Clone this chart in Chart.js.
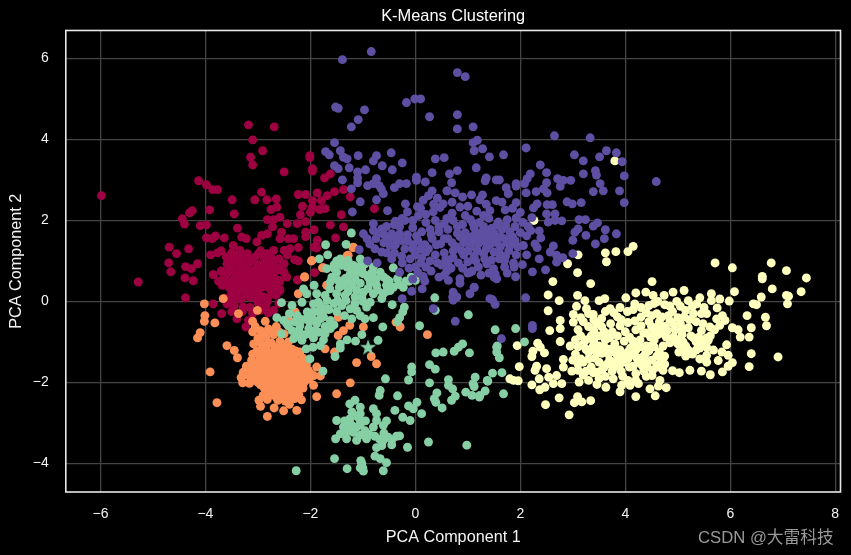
<!DOCTYPE html>
<html><head><meta charset="utf-8">
<style>html,body{margin:0;padding:0;background:#000;overflow:hidden}
#wrap{position:relative;width:851px;height:555px}
#mark{position:absolute;left:698px;top:524px;font:16.7px "Liberation Sans","Noto Sans CJK SC",sans-serif;color:#9a9a9a;white-space:nowrap}
</style>
<script src="https://cdn.jsdelivr.net/npm/chart.js@4"></script></head>
<body><div id="wrap"><canvas id="c" width="851" height="555"></canvas><div id="mark">CSDN @大雷科技</div></div>
<script>
const chartTitle="K-Means Clustering", xLabel="PCA Component 1", yLabel="PCA Component 2";
const xTicks=[-6,-4,-2,0,2,4,6,8], yTicks=[-4,-2,0,2,4,6];
const crimsonPts=[[-5.98,2.61],[-5.28,0.48],[-3.18,4.36],[-2.69,4.31],[-3.1,3.99],[-2.91,3.72],[-3.14,3.56],[-3.1,3.37],[-2.01,3.6],[-2.01,3.55],[-1.96,3.28],[-1.96,3.22],[-2.5,3.2],[-1.62,3.15],[-1.73,3.05],[-4.13,2.98],[-3.98,2.88],[-3.86,2.76],[-3.77,2.76],[-2.93,2.7],[-3.49,2.51],[-3.06,2.51],[-2.83,2.51],[-2.65,2.53],[-2.23,2.64],[-2.09,2.64],[-1.87,2.68],[-1.68,2.61],[-1.54,2.71],[-1.37,2.76],[-1.24,2.58],[-1.96,2.49],[-1.79,2.49],[-2.15,2.35],[-1.96,2.33],[-0.78,2.29],[-1.41,2.14],[-1.62,1.89],[-1.37,1.84],[-1.52,1.57],[-3.92,2.26],[-4.25,2.24],[-4.3,2.19],[-3.45,2.16],[-4.44,2.04],[-4.4,1.91],[-4.1,1.87],[-3.98,1.89],[-3.39,1.81],[-3.98,1.57],[-3.87,1.55],[-3.81,1.62],[-3.64,1.57],[-4.69,1.34],[-4.55,1.18],[-4.32,1.3],[-4.7,0.95],[-4.66,0.73],[-4.38,0.86],[-4.27,0.81],[-4.15,0.93],[-4.39,0.58],[-4.23,0.51],[-3.85,0.66],[-3.9,1.15],[-3.77,1.2],[-3.7,1.25],[-3.31,1.59],[-3.22,1.55],[-3.02,1.47],[-2.93,1.63],[-2.82,1.67],[-2.72,1.84],[-2.82,2.02],[-2.7,2.02],[-2.75,2.27],[-2.64,2.33],[-2.58,2.08],[-2.44,1.92],[-2.25,1.92],[-2.09,1.97],[-2.19,2.14],[-2,2.2],[-1.82,2.27],[-1.72,2.29],[-2.09,1.71],[-1.93,1.77],[-2.09,1.6],[-1.87,1.51],[-1.93,1.34],[-1.88,1.32],[-2.55,1.71],[-2.58,1.55],[-2.42,1.55],[-2.32,1.55],[-2.39,1.3],[-2.23,1.33],[-2.5,1.26],[-2.44,1.15],[-2.3,1.03],[-2.23,1],[-2.7,1.26],[-2.83,1.18],[-2.99,1.18],[-2.7,0.93],[-2.5,0.93],[-2.64,0.77],[-2.5,0.72],[-2.59,0.48],[-2.59,0.31],[-2.25,0.53],[-1.92,0.71],[-3.47,1.38],[-3.34,1.26],[-3.47,1.09],[-3.59,0.93],[-3.66,0.68],[-3.62,0.62],[-3.55,0.35],[-3.5,0.78],[-3.48,0.5],[-3.45,0.15],[-3.42,1],[-3.4,0.65],[-3.38,0.32],[-3.35,0.85],[-3.32,0.05],[-3.3,0.55],[-3.28,1.1],[-3.25,0.25],[-3.24,0.72],[-3.2,0.42],[-3.18,0.92],[-3.15,0.1],[-3.12,0.6],[-3.1,1.02],[-3.08,0.3],[-3.05,0.78],[-3.02,0.48],[-3,-0.02],[-2.98,0.18],[-2.96,0.9],[-2.94,0.62],[-2.9,0.36],[-2.88,1.08],[-2.85,0.75],[-2.82,0.08],[-2.8,0.52],[-2.76,0.28],[-2.74,0.9],[-2.7,0.62],[-2.68,0.4],[-2.65,0.16],[-3.58,0.9],[-3.52,0.05],[-3.7,0.75],[-3.68,0.4],[-3.3,0.4],[-3.15,0.35],[-3.35,0.62],[-3.22,0.55],[-3.05,0.6],[-3.12,0.2],[-2.95,0.45],[-3.42,0.45],[-3.4,0.15],[-3.85,0.66],[-4.38,0.09],[-3.69,-0.3],[-3.85,-0.06],[-3.4,-0.43],[-3.23,-0.63],[-3.18,-0.47],[-2.7,-0.22],[-2.96,-0.22],[-3.28,-0.14],[-3.59,-0.06],[-2.83,-0.02],[-2.58,0.27],[-2.59,0.52],[-2.24,0.53],[-1.13,0.64],[-3.1,-0.3],[-2.85,-0.12],[-3.45,-0.1],[-2.6,-0.05]];
const crimsonCore=[[-3.6,0.45],[-3.56,0.72],[-3.5,0.22],[-3.46,0.9],[-3.44,0.58],[-3.42,0.33],[-3.36,0.08],[-3.33,0.74],[-3.3,0.98],[-3.28,0.3],[-3.26,0.48],[-3.2,0.18],[-3.2,0.82],[-3.14,0.48],[-3.14,1],[-3.08,0.7],[-3.06,0.1],[-3.02,0.32],[-3,0.9],[-2.98,0.56],[-2.92,0.75],[-2.9,0.12],[-2.88,0.48],[-2.85,0.95],[-2.83,0.62],[-2.78,0.4],[-2.72,0.72],[-2.7,0.18],[-2.66,0.55],[-3.6,1.1],[-3.5,1.2],[-3.38,1.12],[-3.2,1.18],[-3.05,1.1],[-3.55,1],[-2.95,1.25],[-2.75,1.08],[-2.6,1.05],[-2.55,0.85],[-2.45,0.6],[-3.62,0.08],[-3.75,0.5],[-3.3,-0.25],[-3.15,-0.15],[-2.8,-0.28],[-3.5,-0.25]];
const orangePts=[[-4.02,-0.06],[-3.66,0.07],[-4.01,-0.35],[-4.02,-0.49],[-3.82,-0.53],[-4.1,-0.77],[-4.15,-0.9],[-3.37,-0.3],[-3.01,-0.22],[-3.1,-0.49],[-2.86,-0.49],[-3.59,-1.09],[-3.45,-1.21],[-3.39,-1.39],[-3.91,-1.74],[-3.78,-2.5],[-3.29,-2.01],[-2.95,-2.59],[-2.69,-2.63],[-2.82,-2.84],[-2.51,-2.7],[-2.26,-2.69],[-2.17,-2.43],[-2.4,-2.54],[-1.88,-2.35],[-1.5,-2.28],[-1.24,-2.01],[-1.12,-1.51],[-0.74,-1.54],[-0.84,-1.36],[-1.94,-2.07],[-1.94,-1.83],[-1.81,-1.84],[-1.88,-1.62],[-1.97,1.01],[-2.11,0.6],[-2.23,0.19],[-1.75,0.83],[-1.18,1.34],[-1.28,1.14],[0.23,-0.82],[-0.29,-0.63],[-0.37,-0.51],[-0.99,-0.63],[-1.54,-1.25],[-1.72,-1.17],[-1.75,-0.22],[-1.47,-0.39],[-1.25,-0.59],[-1.37,-0.72],[-1.47,-0.84],[-2.29,-0.26],[-2.42,-0.43],[-1.69,0.4],[-1.98,1],[-2.11,0.61],[-1.77,0.83],[-1.19,1.33],[-1.3,1.13],[-1.22,0.78],[-1.31,0.58],[-3.05,-0.62],[-2.95,-0.72],[-2.8,-0.68],[-2.65,-0.62],[-2.5,-0.8],[-3,-0.9],[-2.85,-0.88],[-2.7,-0.82],[-2.58,-0.98],[-2.42,-1],[-2.92,-1.08],[-2.75,-1.02],[-3.02,-1.22],[-2.84,-1.2],[-2.68,-1.18],[-2.52,-1.15],[-2.35,-1.18],[-2.2,-1.25],[-2.96,-1.38],[-2.78,-1.35],[-2.62,-1.32],[-2.46,-1.32],[-2.3,-1.35],[-2.14,-1.4],[-3.05,-1.52],[-2.88,-1.5],[-2.72,-1.48],[-2.56,-1.46],[-2.4,-1.48],[-2.24,-1.5],[-2.08,-1.55],[-3.15,-1.68],[-3,-1.65],[-2.84,-1.63],[-2.68,-1.62],[-2.52,-1.62],[-2.36,-1.62],[-2.2,-1.65],[-2.04,-1.7],[-3.2,-1.82],[-3.04,-1.8],[-2.88,-1.78],[-2.72,-1.76],[-2.56,-1.76],[-2.4,-1.78],[-2.24,-1.8],[-2.08,-1.84],[-3.08,-1.95],[-2.92,-1.92],[-2.76,-1.9],[-2.6,-1.9],[-2.44,-1.92],[-2.28,-1.95],[-2.12,-2],[-2.95,-2.06],[-2.78,-2.05],[-2.62,-2.04],[-2.46,-2.06],[-2.3,-2.08],[-2.14,-2.14],[-2.72,-2.18],[-2.56,-2.18],[-2.4,-2.2],[-2.24,-2.22],[-2.9,-2.32],[-2.72,-2.3],[-2.54,-2.32],[-2.38,-2.34],[-2.22,-2.3],[-2.62,-2.44],[-2.48,-2.46]];
const orangeCore=[[-3.1,-0.75],[-2.9,-0.82],[-2.75,-0.72],[-2.6,-0.75],[-3.08,-1.05],[-2.98,-1],[-2.83,-1.08],[-2.6,-1.08],[-2.47,-1.1],[-3.1,-1.3],[-2.9,-1.28],[-2.72,-1.26],[-2.55,-1.24],[-2.38,-1.26],[-2.28,-1.22],[-3.12,-1.45],[-2.96,-1.44],[-2.8,-1.42],[-2.64,-1.4],[-2.48,-1.4],[-2.32,-1.42],[-2.16,-1.48],[-3.22,-1.6],[-3.07,-1.58],[-2.92,-1.56],[-2.76,-1.55],[-2.6,-1.54],[-2.44,-1.55],[-2.28,-1.56],[-2.12,-1.58],[-3.28,-1.75],[-3.1,-1.74],[-2.95,-1.72],[-2.8,-1.7],[-2.64,-1.69],[-2.48,-1.69],[-2.32,-1.71],[-2.16,-1.72],[-2,-1.78],[-3.32,-1.88],[-3.14,-1.88],[-2.98,-1.85],[-2.82,-1.84],[-2.66,-1.83],[-2.5,-1.84],[-2.34,-1.86],[-2.18,-1.88],[-2.02,-1.92],[-3.16,-2.02],[-3,-2],[-2.85,-1.98],[-2.68,-1.97],[-2.52,-1.98],[-2.36,-2],[-2.2,-2.04],[-2.88,-2.14],[-2.7,-2.11],[-2.54,-2.11],[-2.38,-2.13],[-2.22,-2.14],[-2.8,-2.24],[-2.64,-2.25],[-2.48,-2.26],[-2.32,-2.27],[-2.65,-2.37],[-2.45,-2.38],[-2.3,-2.4],[-2.82,-2.42],[-2.98,-2.44]];
const greenPts=[[-2.27,-4.18],[-1.54,-3.88],[-1.3,-4.13],[-1.04,-3.93],[-1.02,-4],[-1.05,-4.11],[-0.99,-4.19],[-1,-4.11],[-0.61,-4.18],[-0.55,-3.98],[-0.67,-3.88],[-0.77,-3.82],[-0.15,-3.6],[0.25,-3.47],[0.98,-3.55],[-0.74,-3.61],[-0.64,-3.56],[-0.45,-3.54],[-0.52,-3.35],[-0.61,-3.43],[-0.77,-3.33],[-0.36,-3.33],[-0.3,-3.32],[-1.52,-3.39],[-1.31,-3.39],[-1.43,-3.27],[-1.18,-3.23],[-1.12,-3.43],[-0.93,-3.39],[-0.96,-3.19],[-1.12,-3.1],[-1.31,-3.02],[-1.5,-2.94],[-1.37,-3.1],[-1.05,-2.94],[-0.8,-3.1],[-0.74,-2.94],[-0.55,-2.95],[-0.61,-3.06],[-1.15,-2.44],[-1.25,-2.53],[-1.05,-2.61],[-1.21,-2.73],[-1.05,-2.77],[-0.8,-2.65],[-0.74,-2.77],[-0.67,-2.2],[-0.69,-2.32],[-0.34,-2.33],[-0.39,-2.69],[-0.24,-2.86],[-0.1,-2.94],[-0.13,-2.58],[0.03,-2.49],[-0.04,-2.65],[0.12,-2.77],[-0.57,-1.91],[-0.13,-1.94],[-0.07,-1.62],[-0.07,-1.74],[0.27,-1.56],[0.38,-1.67],[0.27,-2.01],[0.41,-2.26],[0.36,-2.4],[0.39,-2.49],[0.51,-2.63],[0.63,-1.93],[0.63,-2.07],[0.71,-2.16],[0.76,-2.34],[0.69,-2.44],[0.96,-2.24],[1.08,-2.32],[1.22,-2.36],[1.33,-2.21],[1.14,-1.87],[1.1,-2.03],[1.12,-2.1],[1.38,-1.97],[1.47,-1.77],[0.39,-1.27],[0.53,-1.25],[0.74,-1.23],[0.82,-1.13],[0.9,-1.05],[1.03,-1.27],[1.52,-0.7],[1.55,-1.13],[1.55,-1.25],[1.6,-1.39],[1.01,-0.33],[0.08,-0.6],[0.37,0.09],[0.38,-0.22],[-0.62,-0.63],[-0.8,-0.4],[-0.44,-0.08],[-0.21,-0.14],[-0.24,-0.26],[-0.3,-0.4],[-0.34,-0.5],[1.91,-0.67],[2.08,-1],[1.56,-1.1],[1.65,-1.76],[1.37,-1.95],[1.68,-2.28],[1.23,-2.32],[-1.71,1.4],[-1.32,1.41],[-1.22,1.69],[-1.83,1.05],[-1.67,1.15],[-1.43,1.05],[-1.4,0.89],[-1.28,1.01],[-1.18,0.89],[-1.05,1.05],[-0.96,0.93],[-0.8,0.85],[-0.67,0.72],[-0.42,0.83],[-1.69,0.81],[-1.59,0.6],[-1.47,0.52],[-1.34,0.56],[-1.24,0.68],[-1.1,0.72],[-0.99,0.68],[-0.86,0.48],[-0.74,0.4],[-0.55,0.4],[-0.6,0.6],[-0.48,0.27],[-0.34,0.56],[-0.23,0.35],[-0.12,0.5],[0,0.52],[-0.61,0.19],[-0.64,0.07],[-0.8,0.19],[-0.86,-0.02],[-0.93,-0.14],[-1.15,0.11],[-1.34,0.15],[-1.37,0.4],[-1.21,0.4],[-0.99,0.23],[-1.5,0.19],[-1.63,0.31],[-1.72,0.15],[-1.88,0.19],[-1.93,0.4],[-2.07,0.19],[-2.13,0.31],[-1.94,-0.06],[-2.16,-0.02],[-2.35,-0.1],[-2.55,-0.03],[-1.4,-0.1],[-1.24,-0.18],[-1.12,-0.22],[-1.05,-0.35],[-0.96,-0.43],[-1.21,-0.43],[-2.64,-0.4],[-2.51,-0.47],[-2.55,-0.8],[-2.35,-0.72],[-2.22,-0.72],[-2.03,-0.67],[-2.06,-0.26],[-1.94,-0.26],[-1.81,-0.43],[-1.62,-0.47],[-1.62,-0.67],[-1.72,-0.62],[-2.32,-0.92],[-2.16,-0.96],[-1.94,-0.9],[-1.84,-0.76],[-1.81,-1.09],[-1.95,-1.13],[-2.08,-1.17],[-2.01,-1.42],[-1.53,-1.36],[-1.43,-1.05],[-1.43,-1.15],[-1.3,-0.95],[-1.14,-0.98],[-1.02,-0.82],[-0.71,-0.96],[-1.76,-1.72],[-2.45,-0.55],[-2.3,-0.5],[-2.15,-0.45],[-2.2,-0.6],[-2.02,-0.5],[-1.88,-0.55],[-1.75,-0.38],[-2.1,-0.82],[-1.55,0.82],[-1.5,0.72],[-1.15,0.72],[-0.9,0.6],[-0.75,0.55],[-1.05,0.45],[-0.5,0.5],[-1.28,0.25],[-1.8,-0.12],[-1.55,-0.05],[-1.85,-0.25]];
const greenCore=[[-2.4,-0.3],[-2.25,-0.35],[-2.05,-0.38],[-1.95,-0.45],[-1.9,-0.72],[-1.72,-0.8],[-1.75,-0.95],[-2,-0.8],[-2.25,-0.82],[-2.42,-0.6],[-1.85,-0.02],[-1.68,0.02],[-1.48,0.02],[-1.32,0.02],[-1.15,-0.05],[-1,0],[-1.12,0.28],[-1.02,0.1],[-0.9,0.32],[-0.72,0.28],[-0.55,0.25],[-0.42,0.35],[-0.32,0.42],[-1.45,0.35],[-1.28,0.48],[-1.62,0.48],[-1.15,0.55],[-0.82,0.72],[-0.55,0.55],[-0.18,0.5],[-0.08,0.6],[-1.5,1],[-1.55,0.9],[-1.3,0.85],[-1.08,0.85],[-1.02,0.78],[-0.85,0.68],[-1.65,-0.2],[-1.5,-0.25],[-1.35,-0.35],[-1.72,-0.18],[-1.55,-0.58],[-1.3,-3.2],[-1.22,-3.05],[-1.05,-3.05],[-0.95,-2.95],[-1.25,-2.9],[-1.1,-2.85],[-1.35,-2.95],[-0.88,-3.28],[-1.05,-3.3],[-0.68,-3.4],[-0.6,-3.25],[-0.45,-3.42]];
const purplePts=[[-0.84,6.17],[-1.39,5.97],[-1.52,4.8],[-1.47,4.77],[-0.97,4.73],[-1.09,4.49],[-1.22,4.31],[-0.17,4.91],[-0.01,5],[0.1,5],[0.27,4.56],[-1.54,3.92],[-1.43,3.72],[-1.71,3.7],[-1.64,3.62],[-1.37,3.56],[-1.3,3.52],[-1.09,3.6],[-0.74,3.6],[-0.8,3.47],[-0.46,3.67],[-0.25,3.42],[0.38,3.52],[0.55,3.55],[-1.54,3.35],[-1.47,3.28],[-1.26,3.3],[-1.1,3.2],[-0.95,3.25],[-0.63,3.35],[-0.44,3.25],[0.32,3.18],[-1.1,3.05],[-1.1,2.93],[-1.39,3],[-0.74,3.03],[-0.8,2.91],[-0.91,2.86],[-0.69,2.86],[-0.65,2.78],[-0.61,2.66],[-1.22,2.78],[-0.4,2.81],[-0.3,2.91],[-0.17,2.91],[0.02,3.07],[0.02,2.99],[0.19,2.95],[0.32,2.73],[0.25,2.61],[0.6,2.73],[-1.05,2.46],[-0.74,2.51],[-1.2,2.21],[-0.53,2.24],[-0.19,2.41],[0.04,2.34],[0.53,2.41],[0.47,2.32],[-0.15,2.21],[0.06,2.12],[0.34,2.21],[-0.38,1.98],[-0.2,2],[-0.8,1.92],[-0.64,1.79],[-0.8,1.75],[-0.99,1.67],[-0.7,1.7],[-0.45,1.67],[-0.3,1.67],[-0.87,1.42],[-0.77,1.3],[-0.64,1.22],[-0.48,1.38],[-0.45,1.05],[-0.26,1.12],[-0.05,1.3],[-1.07,1.28],[-0.91,1],[-0.73,0.95],[0.8,5.65],[0.95,5.55],[0.8,4.61],[0.8,4.26],[1.1,4.31],[1.1,3.92],[1.18,3.98],[1.12,3.72],[1.28,3.77],[1.41,3.57],[1.68,3.62],[2.11,3.79],[2.65,4.09],[3.33,4.04],[3.03,3.62],[3.2,3.47],[3.51,3.57],[3.64,3.72],[3.83,3.67],[3.94,3.45],[1.16,3.3],[0.8,3.23],[0.65,3.15],[0.69,2.93],[2.38,3.37],[2.5,3.18],[2.19,3.15],[2.13,3.03],[3.2,3.15],[3.43,3.23],[3.45,3.12],[3.98,3.1],[4.59,2.96],[1.35,3.05],[1.33,2.98],[1.54,3],[1.6,3],[1.92,2.91],[1.92,2.85],[1.73,2.81],[1.77,2.66],[2.08,2.91],[2.11,2.68],[2.3,2.71],[2.44,2.78],[2.5,2.93],[2.51,2.68],[2.71,3.03],[2.82,2.99],[2.96,2.99],[2.76,2.84],[3.52,2.91],[3.58,2.73],[3.39,2.71],[3.89,2.73],[3.98,2.44],[3.16,2.44],[2.99,2.41],[2.89,2.46],[2.61,2.39],[2.51,2.39],[2.32,2.41],[2.25,2.31],[1.92,2.44],[1.54,2.49],[0.61,2.73],[0.76,2.68],[0.9,2.58],[1.07,2.63],[1.28,2.63],[1.23,2.51],[0.85,2.33],[1.42,2.24],[1.71,2.26],[1.17,2.23],[2.22,2.07],[2.5,2.16],[2.66,2.16],[2.53,1.96],[2.79,1.99],[2.66,2],[3.12,2.02],[3.24,2.02],[3.47,1.94],[3.39,1.86],[3.62,1.77],[3.83,1.67],[3.6,1.55],[3.43,1.42],[3,1.18],[3.1,1.79],[3.25,1.63],[3.04,1.71],[3,1.51],[2.36,1.74],[2.39,1.57],[2.28,1.42],[2.32,1.33],[2.06,1.38],[2.12,1.15],[2.36,1.05],[2.63,1.37],[2.57,1.22],[2.69,1.14],[2.81,1.08],[2.69,0.97],[2.04,0.91],[2.23,0.73],[2.48,0.78],[1.91,0.61],[1.87,0.95],[1.88,0.85],[1.7,1.01],[1.49,0.81],[1.55,0.56],[1.5,0.6],[1.04,0.72],[0.85,0.56],[0.63,0.52],[1.12,0.35],[0.76,-0.49],[0.34,-0.18],[-0.25,0.07],[-0.07,0.25],[0.13,0.31],[0.71,0.11],[0.79,0.11],[0.72,0.03],[1.04,0.19],[1.12,0.34],[1.47,0.04],[1.52,-0.07],[1.42,0.07],[0.85,0.45],[1,0.7],[1.08,0.75],[0.72,0.23],[2.23,-0.59],[2.23,-0.67],[1.64,-0.92],[2.1,0.09],[1.52,0.68],[1.36,0.93],[-0.05,0.55],[0.05,0.72],[0.15,0.62],[0.3,0.75],[0.45,0.6],[-0.12,0.82],[0.1,0.95],[0.28,1],[0.5,0.9],[0.68,0.82],[0.82,0.95],[1,0.98],[1.2,0.85],[1.32,1.05],[1.12,1.12],[0.92,1.15],[0.72,1.08],[0.55,1.2],[0.38,1.15],[0.2,1.22],[0,1.15],[-0.15,1.5],[0.05,1.5],[0.18,1.4],[0.32,1.55],[0.48,1.42],[0.62,1.55],[0.78,1.35],[0.92,1.45],[1.05,1.35],[1.2,1.42],[1.35,1.3],[1.5,1.22],[1.62,1.35],[1.78,1.25],[1.92,1.15],[1.22,1.58],[1.08,1.6],[1.35,1.6],[1.48,1.55],[1.62,1.6],[1.75,1.45],[1.9,1.5],[2,1.7],[2.12,1.62],[1.8,1.72],[1.65,1.78],[1.45,1.8],[1.28,1.72],[1.12,1.82],[0.95,1.7],[0.8,1.68],[0.62,1.78],[0.45,1.72],[0.28,1.78],[0.12,1.72],[-0.05,1.82],[0.2,1.95],[0.38,2],[0.55,1.92],[0.72,2],[0.9,1.9],[1.05,2.02],[1.22,1.95],[1.4,2.05],[1.58,1.96],[1.75,2.02],[1.92,2.06],[2.05,1.95],[1.3,2.12],[0.95,2.12],[0.7,2.18],[-0.5,1.55],[-0.38,1.4],[-0.25,1.5],[-0.55,1.85],[-0.15,1.65],[-0.3,1.85]];
const purpleCore=[[-0.6,1.45],[-0.55,1.2],[-0.4,1.2],[-0.35,1.55],[-0.2,1.3],[-0.1,1.05],[-0.05,1.4],[0.02,1.62],[0.1,1.3],[0.12,1.08],[0.25,1.3],[0.3,1.65],[0.4,1.4],[0.42,0.95],[0.55,1.55],[0.58,1.05],[0.6,0.75],[0.7,1.45],[0.72,1.25],[0.85,1.6],[0.88,1.25],[1,1.25],[1,1.55],[1.1,1.48],[1.15,1.7],[1.18,1.25],[1.25,1.5],[1.3,1.18],[1.35,1.45],[1.4,1.7],[1.42,1.4],[1.5,1.68],[1.55,1.45],[1.6,1.2],[1.7,1.55],[1.72,1.12],[1.8,1.38],[1.85,1.6],[1.95,1.35],[0.2,2.15],[-0.05,2],[0.45,1.85],[0.6,2.05],[0.8,1.85],[0.9,1.58],[1.1,1.92],[1.3,1.85],[1.55,1.88],[1.72,1.88],[1.9,1.85],[2.15,1.85],[2.2,1.75],[1.6,1.05],[1.45,1.02],[1.15,1],[0.9,0.82],[0.62,0.95],[0.2,0.85],[0,0.85],[-0.25,0.95],[-0.3,0.72],[0.55,0.65],[1.25,0.65],[1.4,0.7],[1.7,0.85],[1.75,0.7],[-0.75,1.55],[-0.6,1.65],[-0.92,1.55],[-0.4,1.9],[-0.25,2.05],[0.1,2.3],[0.35,2.4],[0.7,2.45],[1,2.35],[1.35,2.4],[1.65,2.45],[1.85,2.3],[2,2.2],[0.15,2.5],[0.42,2.55],[0.18,0.5]];
const yellowPts=[[4.15,1.36],[4.05,1.23],[3.82,1.23],[3.62,1.2],[3.64,0.98],[3.1,1.15],[2.9,0.93],[3.09,0.71],[2.62,0.49],[3.34,0.44],[4.51,0.49],[5.71,0.95],[6.04,0.83],[6.78,0.95],[7.07,0.76],[6.61,0.62],[6.61,0.56],[7.45,0.58],[6.8,0.31],[7.35,0.24],[7.07,0.15],[7.11,0.13],[7.09,-0.06],[6.59,0.11],[6.08,0.24],[6.44,-0.06],[6.5,-0.08],[6.32,-0.35],[6.67,-0.39],[6.69,-0.6],[6.4,-0.65],[6.36,-0.88],[6.19,-0.88],[6.04,-0.65],[6.15,-0.7],[5.93,-1.07],[6.4,-1.29],[6.91,-1.37],[6.36,-1.61],[6.04,-1.51],[5.96,-1.6],[5.85,-1.74],[5.62,-1.81],[2.53,0.16],[2.74,0.02],[3.09,0.15],[2.53,-0.23],[1.94,-1.09],[1.98,-1.61],[1.8,-1.91],[1.87,-1.95],[1.96,-1.96],[2.22,-2.06],[2.37,-2.18],[2.48,-2.55],[2.74,-2.38],[2.93,-2.8],[3.03,-2.5],[3.09,-2.35],[3.17,-2.48],[3.34,-2.45],[4.2,-2.35],[4.57,-2.33],[4.78,-2.13],[5.03,-1.76],[4.9,-1.71],[4.47,-2.16],[3.9,-2.23],[2.24,-1.23],[2.22,-1.36],[2.33,-1.03],[2.38,-1.13],[2.46,-1.27],[2.76,-0.47],[2.56,-0.72],[2.76,-0.67],[2.76,-0.99],[2.82,-1.43],[2.31,-1.6],[2.5,-1.66],[2.28,-1.7],[2.36,-1.91],[2.54,-1.87],[2.69,-1.83],[2.63,-2.03],[2.79,-2.03],[2.47,-2.12],[2.82,-1.62],[2.98,-1.72],[3.12,-1.99],[3.46,-2.05],[3.63,-2.12],[3.77,-1.91],[3.93,-2.07],[4.09,-2.07],[4.25,-2.03],[4.51,-1.83],[4.66,-1.95],[4.63,-2.09],[5.23,-1.7],[5.45,-1.72],[3.2,-1.82],[3.39,-1.76],[3.61,0.07],[4.01,0.09],[4.2,0.21],[4.39,0.23],[4.53,0.15],[4.74,0.15],[4.91,0.23],[5.12,0.27],[5.2,0.02],[5.42,0.09],[5.36,-0.06],[5.64,0.19],[5.64,0.02],[5.8,0.06],[5.98,0.01],[5.75,-0.16],[3.23,0.02],[3.07,-0.12],[3.26,-0.18],[3.5,0.02],[3.71,-0.18],[3.39,-0.32],[4.04,-0.25],[4.18,-0.06],[3.01,-0.32],[3.01,-0.51],[5.55,-0.3],[5.74,-0.43],[5.9,-0.47],[5.8,-0.59],[5.61,-0.63],[5.58,-0.96],[5.55,-1.13],[5.84,-1.25],[5.96,-1.33],[5.77,-1.46],[5.55,-1.33],[5.42,-1.42],[3.3,-0.3],[3.55,-0.42],[3.85,-0.38],[4.15,-0.2],[4.3,-0.38],[4.45,-0.1],[4.6,-0.3],[4.75,-0.08],[4.9,-0.25],[5.05,-0.12],[5,-0.4],[5.3,-0.3],[4.55,-0.05],[5.12,-0.38],[4.82,-0.35],[3.1,-0.7],[3.3,-0.62],[3.45,-0.55],[3.6,-0.75],[3.72,-0.55],[3.9,-0.6],[4,-0.75],[4.2,-0.7],[4.3,-0.6],[4.45,-0.5],[4.55,-0.72],[4.65,-0.5],[4.75,-0.62],[4.85,-0.48],[4.95,-0.7],[5.05,-0.55],[5.2,-0.65],[5.35,-0.5],[5.45,-0.72],[4.4,-0.78],[4.7,-0.78],[2.95,-1.1],[3.05,-0.95],[3.2,-1.05],[3.35,-0.85],[3.5,-1.1],[3.62,-0.95],[3.8,-1.05],[3.98,-0.98],[4.1,-1.15],[4.28,-0.95],[4.4,-1.1],[4.55,-0.95],[4.72,-1.1],[4.85,-1.02],[5.02,-0.95],[5.15,-1.1],[5.3,-0.9],[5.42,-1.15],[5.55,-0.9],[3.7,-1.18],[3.9,-1.2],[3.05,-1.3],[3.2,-1.5],[3.3,-1.25],[3.42,-1.4],[3.55,-1.28],[3.7,-1.45],[3.85,-1.35],[4,-1.5],[4.12,-1.32],[4.25,-1.5],[4.38,-1.3],[4.5,-1.45],[4.65,-1.25],[5.02,-1.25],[5.15,-1.35],[5.28,-1.3],[4.32,-1.58],[4.6,-1.58],[3.1,-1.55],[3.25,-1.72],[3.45,-1.75],[3.6,-1.62],[3.78,-1.62],[3.92,-1.72],[4.08,-1.62],[4.2,-1.78],[4.35,-1.72],[4.52,-1.7],[4.62,-1.62],[2.26,2],[3.8,3.47]];
const yellowCore=[[3.15,-0.85],[3.25,-0.95],[3.4,-0.72],[3.4,-1],[3.5,-0.85],[3.55,-0.62],[3.7,-0.9],[3.75,-0.75],[3.85,-0.85],[3.92,-0.45],[4.05,-0.52],[4.08,-0.88],[4.18,-0.48],[4.15,-0.98],[4.22,-1.05],[4.35,-0.78],[4.48,-0.88],[4.5,-0.62],[4.62,-0.82],[4.62,-0.62],[4.7,-0.38],[4.78,-0.88],[4.8,-0.72],[4.9,-0.55],[4.92,-0.88],[5.08,-0.82],[5.1,-0.68],[5.22,-0.45],[5.25,-0.85],[5.4,-0.88],[5.48,-0.55],[3.1,-1.12],[3.25,-1.18],[3.38,-1.12],[3.45,-1.25],[3.6,-1.12],[3.68,-1.3],[3.8,-1.25],[3.95,-1.35],[4.05,-1.25],[4.2,-1.2],[4.3,-1.12],[4.32,-1.38],[4.45,-1.22],[4.5,-1.1],[4.6,-1.35],[4.55,-1.12],[3.15,-1.42],[3.3,-1.42],[3.35,-1.62],[3.5,-1.5],[3.55,-1.7],[3.65,-1.55],[3.8,-1.5],[3.9,-1.55],[4.05,-1.42],[4.15,-1.6],[4.22,-1.4],[4.42,-1.5],[4.42,-1.62],[4.72,-1.7],[4.68,-1.45],[4.75,-1.35],[5,-1.05],[5.1,-1],[5.1,-1.2],[5.2,-1.2],[5.35,-1.2],[5.35,-1],[5.48,-1],[3,-1.45],[3.1,-1.7],[3.15,-0.4],[3.2,-0.5],[3.4,-0.45],[3.62,-0.25],[3.78,-0.28],[3.9,-0.15],[4.3,-0.15],[4.4,-0.28],[4.5,-0.35],[4.62,0],[4.85,-0.12],[4.98,0],[5.15,-0.22],[5.28,-0.12],[5.45,-0.3],[5.5,-0.15],[3.75,-1.72],[3.95,-1.85],[4.05,-1.95],[4.2,-1.95],[4.4,-1.85],[3.3,-1.95],[3.5,-1.9],[3.62,-1.85],[4.75,-1.55],[5.55,-1.5],[5.68,-1.2],[5.7,-0.7],[5.62,-0.85],[5.85,-0.35]];
const starPts=[[-0.9,-1.13]];
const colors={crimson:"#9e0142",orange:"#fb8f56",green:"#86cfa5",purple:"#5e4fa2",yellow:"#ffffbe"};

const star=document.createElement('canvas');star.width=18;star.height=18;
(function(){const g=star.getContext('2d');g.fillStyle=colors.green;g.beginPath();
for(let i=0;i<10;i++){const r=i%2?3.4:8.6,a=-Math.PI/2+i*Math.PI/5;const px=9+r*Math.cos(a),py=9.5+r*Math.sin(a);i?g.lineTo(px,py):g.moveTo(px,py);}
g.closePath();g.fill();})();

const toXY=(...lists)=>lists.flat().map(p=>({x:p[0],y:p[1]}));
const ds=(c,...lists)=>({data:toXY(...lists),backgroundColor:c,borderWidth:0,pointRadius:4.45,pointHoverRadius:4.45});
const frame={id:'frame',afterDraw(ch){const a=ch.chartArea,g=ch.ctx;g.save();g.strokeStyle='#e8e8e8';g.lineWidth=1.6;g.strokeRect(a.left,a.top,a.right-a.left,a.bottom-a.top);g.restore();}};
const bg={id:'bg',beforeDraw(ch){ch.ctx.save();ch.ctx.fillStyle='#000';ch.ctx.fillRect(0,0,851,555);ch.ctx.restore();}};
const fmt=v=>String(v).replace('-','\u2212');
const font='"Liberation Sans",Arial,sans-serif';
new Chart(document.getElementById('c'),{type:'scatter',
 data:{datasets:[
  {...ds(colors.green,starPts),pointStyle:star,order:0},
  {...ds(colors.purple,purplePts,purpleCore),order:1},
  {...ds(colors.green,greenPts,greenCore),order:2},
  {...ds(colors.orange,orangePts,orangeCore),order:3},
  {...ds(colors.crimson,crimsonPts,crimsonCore),order:4},
  {...ds(colors.yellow,yellowPts,yellowCore),order:5}]},
 plugins:[bg,frame],
 options:{responsive:false,animation:false,devicePixelRatio:1,
  layout:{padding:{left:0,right:10.5,top:0,bottom:0}},
  plugins:{legend:{display:false},tooltip:{enabled:false},
   title:{display:true,text:chartTitle,fullSize:false,color:'#fff',font:{family:font,size:16.4,weight:'normal',lineHeight:1.2},padding:{top:6.5,bottom:4.3}}},
  scales:{
   x:{type:'linear',min:-6.66,max:8.1,afterFit(s){s.height=63;s.paddingLeft=0;s.paddingRight=0;},afterBuildTicks(s){s.ticks=xTicks.map(v=>({value:v}));},
    grid:{color:'#444',lineWidth:1.3,drawTicks:false},border:{display:false},
    ticks:{color:'#f4f4f4',font:{family:font,size:14},padding:13.5,maxRotation:0,callback:fmt},
    title:{display:true,text:xLabel,color:'#f4f4f4',font:{family:font,size:16.2},padding:{top:0,bottom:8}}},
   y:{type:'linear',min:-4.705,max:6.69,afterFit(s){s.width=65.8;s.paddingTop=0;s.paddingBottom=0;},afterBuildTicks(s){s.ticks=yTicks.map(v=>({value:v}));},
    grid:{color:'#444',lineWidth:1.3,drawTicks:false},border:{display:false},
    ticks:{color:'#f4f4f4',font:{family:font,size:14},padding:17,callback:fmt},
    title:{display:true,text:yLabel,color:'#f4f4f4',font:{family:font,size:16.2},padding:{top:7,bottom:0}}}
  }}});
</script></body></html>
